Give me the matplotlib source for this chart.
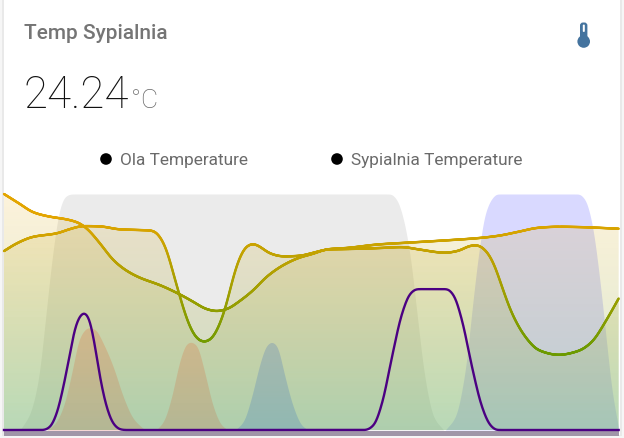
import numpy as np
import matplotlib
matplotlib.use("Agg")
import matplotlib.pyplot as plt
from matplotlib.collections import LineCollection
from matplotlib.colors import LinearSegmentedColormap, to_rgb
from matplotlib.patches import Rectangle, FancyBboxPatch, Circle, Polygon

plt.rcParams['font.family'] = ['Roboto', 'DejaVu Sans']

TITLE = "Temp Sypialnia"
VALUE = "24.24"
UNIT = "°C"
LEGEND = ["Ola Temperature", "Sypialnia Temperature"]

ola_t = [0,48,88,138,188,223,248,288,328,368,408,468,528,568,608,638,668,708,748,788,838,888,924,974,1024,1124,1224,1324,1424,1484,1544,1604,1664,1724,1844]
ola_v = [707,677,652,639,631,621,604,559,509,477,456,434,406,384,362,356,362,387,419,459,494,517,527,542,545,556,562,568,575,582,594,606,609,608,603]
syp_t = [0,38,88,158,198,238,288,348,408,448,468,488,508,528,548,568,588,603,623,648,668,688,708,728,748,768,798,838,888,924,974,1024,1124,1194,1244,1324,1364,1399,1419,1444,1469,1494,1524,1564,1604,1664,1724,1764,1804,1844]
syp_v = [536,559,579,589,602,611,610,601,599,597,579,539,469,399,334,289,267,264,274,319,379,459,519,551,558,549,529,520,522,530,541,542,545,548,541,531,537,552,554,539,499,429,349,279,239,225,237,264,324,394]
pur_t = [0,118,138,158,178,198,213,228,240,253,268,288,308,328,348,363,1084,1109,1134,1164,1194,1219,1239,1329,1349,1374,1404,1434,1459,1479,1844]
pur_v = [0,0,9,49,129,229,304,341,351,339,279,159,69,19,2,0,0,14,79,219,349,409,422,422,404,329,189,69,14,0,0]
gray_t = [48,78,103,123,138,153,168,183,203,1159,1179,1199,1219,1239,1264,1289,1319]
gray_v = [0,49,149,319,459,579,664,699,707,707,689,629,519,349,149,39,0]
lav_t = [1324,1354,1384,1404,1424,1444,1464,1479,1724,1744,1764,1784,1804,1824,1844]
lav_v = [0,39,179,359,529,649,694,707,707,689,619,479,299,119,4]
p1_t = [128,153,178,203,228,253,273,298,328,358,388,423]
p1_v = [0,19,69,169,279,307,302,259,189,99,34,0]
p2_t = [456,478,503,528,548,560,578,603,628,653,673]
p2_v = [0,24,99,209,259,264,254,169,69,14,0]
p3_t = [693,718,743,768,788,803,818,843,868,893,913]
p3_v = [0,24,99,199,254,264,254,159,69,14,0]


def smooth(x, y, sigma=9.0):
    """Monotone cubic through the read points, then a light Gaussian on a fine grid."""
    x = np.asarray(x, float); y = np.asarray(y, float)
    h = np.diff(x); d = np.diff(y) / h
    m = np.zeros_like(y)
    for i in range(1, len(y) - 1):
        if d[i-1] * d[i] > 0:
            w1 = 2*h[i] + h[i-1]; w2 = h[i] + 2*h[i-1]
            m[i] = (w1 + w2) / (w1/d[i-1] + w2/d[i])
    m[0] = d[0]; m[-1] = d[-1]
    xs = np.arange(x[0], x[-1] + 0.5, 1.0)
    idx = np.clip(np.searchsorted(x, xs, side="right") - 1, 0, len(h) - 1)
    s = (xs - x[idx]) / h[idx]
    ys = ((2*s**3 - 3*s**2 + 1)*y[idx] + (s**3 - 2*s**2 + s)*h[idx]*m[idx]
          + (-2*s**3 + 3*s**2)*y[idx+1] + (s**3 - s**2)*h[idx]*m[idx+1])
    r = int(3 * sigma)
    k = np.exp(-0.5 * (np.arange(-r, r + 1) / sigma) ** 2); k /= k.sum()
    pad = np.r_[2*ys[0] - ys[r:0:-1], ys, 2*ys[-1] - ys[-2:-r-2:-1]]
    return xs, np.convolve(pad, k, mode="valid")


W, H = 624, 438
fig = plt.figure(figsize=(W/100, H/100), dpi=100, facecolor="#f6f6f6")

# card and page layer, in pixels
page = fig.add_axes([0, 0, 1, 1], zorder=0)
page.set_xlim(0, W); page.set_ylim(H, 0); page.axis("off")
page.add_patch(Rectangle((2, -2), 619.5, H - 0.5, fc="#e9e9e9", ec="none"))
page.add_patch(Rectangle((3.5, -2), 616.5, H - 1.5, fc="white", ec="none"))
page.add_patch(Rectangle((4, 431), 615, 4.5, fc="#a096a8", ec="none"))

# chart
XMAX, YMAX = 1845, 707
ax = fig.add_axes([4/W, 1 - 430/H, 615/W, 236/H], zorder=1)
ax.set_xlim(0, XMAX); ax.set_ylim(0, YMAX); ax.axis("off"); ax.patch.set_alpha(0)

for t, v, c, sg in [(gray_t, gray_v, "#ebebeb", 5), (lav_t, lav_v, "#d9d9ff", 5),
                    (p1_t, p1_v, "#f6bcb8", 6), (p2_t, p2_v, "#f6bcb8", 6), (p3_t, p3_v, "#b0bdf4", 6)]:
    xs, ys = smooth(t, v, sg)
    ax.fill_between(xs, 0, np.clip(ys, 0, YMAX), color=c, lw=0, zorder=1)

n = 256
frac = (np.linspace(0, 1, n) ** 0.8)[:, None]   # 0 at top, 1 at bottom
top = np.array(to_rgb("#f2af16")); bot = np.array(to_rgb("#74b674"))
rgba = np.zeros((n, 1, 4))
rgba[..., :3] = top * (1 - frac[..., None]) + bot * frac[..., None]
rgba[..., 3] = 0.15 + (0.30 - 0.15) * frac

for t, v in [(ola_t, ola_v), (syp_t, syp_v)]:
    xs, ys = smooth(t, v)
    im = ax.imshow(rgba, extent=[0, XMAX, 0, YMAX], aspect="auto", zorder=2, interpolation="bilinear")
    poly = Polygon(np.column_stack([np.r_[xs, xs[-1], xs[0]], np.r_[ys, 0, 0]]),
                   transform=ax.transData, fc="none", ec="none")
    ax.add_patch(poly)
    im.set_clip_path(poly)
ax.set_xlim(0, XMAX); ax.set_ylim(0, YMAX)

cmap = LinearSegmentedColormap.from_list("g", ["#6c9a00", "#e3a500"])
for t, v in [(ola_t, ola_v), (syp_t, syp_v)]:
    xs, ys = smooth(t, v)
    pts = np.column_stack([xs, ys]).reshape(-1, 1, 2)
    segs = np.concatenate([pts[:-1], pts[1:]], axis=1)
    lc = LineCollection(segs, cmap=cmap, norm=plt.Normalize(240, 640), linewidths=1.7,
                        capstyle="round", zorder=3, clip_on=False)
    lc.set_array((ys[:-1] + ys[1:]) / 2)
    ax.add_collection(lc)
xs, ys = smooth(pur_t, pur_v, 6)
ax.plot(xs, ys, color="#4b0082", lw=1.7, zorder=4, clip_on=False, solid_joinstyle="round")

# header layer, in pixels
top_ax = fig.add_axes([0, 0, 1, 1], zorder=2)
top_ax.set_xlim(0, W); top_ax.set_ylim(H, 0); top_ax.axis("off"); top_ax.patch.set_alpha(0)
top_ax.text(24, 39, TITLE, fontsize=15, color="#757575", fontweight="medium", va="baseline")
top_ax.text(24, 108.5, VALUE, fontsize=31.5, color="#111111", fontweight="light", va="baseline")
top_ax.text(131, 108.5, UNIT, fontsize=19, color="#666666", fontweight="light", va="baseline")
for cx, tx, label in zip([106, 337], [120, 351], LEGEND):
    top_ax.add_patch(Circle((cx, 159), 5.8, fc="black", ec="none"))
    top_ax.text(tx, 165, label, fontsize=12.4, color="#6a6a6a", va="baseline")

icon = "#44739e"
top_ax.add_patch(FancyBboxPatch((581.5, 24), 4.4, 18, boxstyle="round,pad=1.5,rounding_size=3", fc=icon, ec="none"))
top_ax.add_patch(Circle((583.7, 41.5), 6.3, fc=icon, ec="none"))
top_ax.add_patch(FancyBboxPatch((583.2, 25), 1.2, 6.5, boxstyle="round,pad=0.4,rounding_size=0.8", fc="white", ec="none"))

fig.savefig("out.png", dpi=100, facecolor=fig.get_facecolor())
